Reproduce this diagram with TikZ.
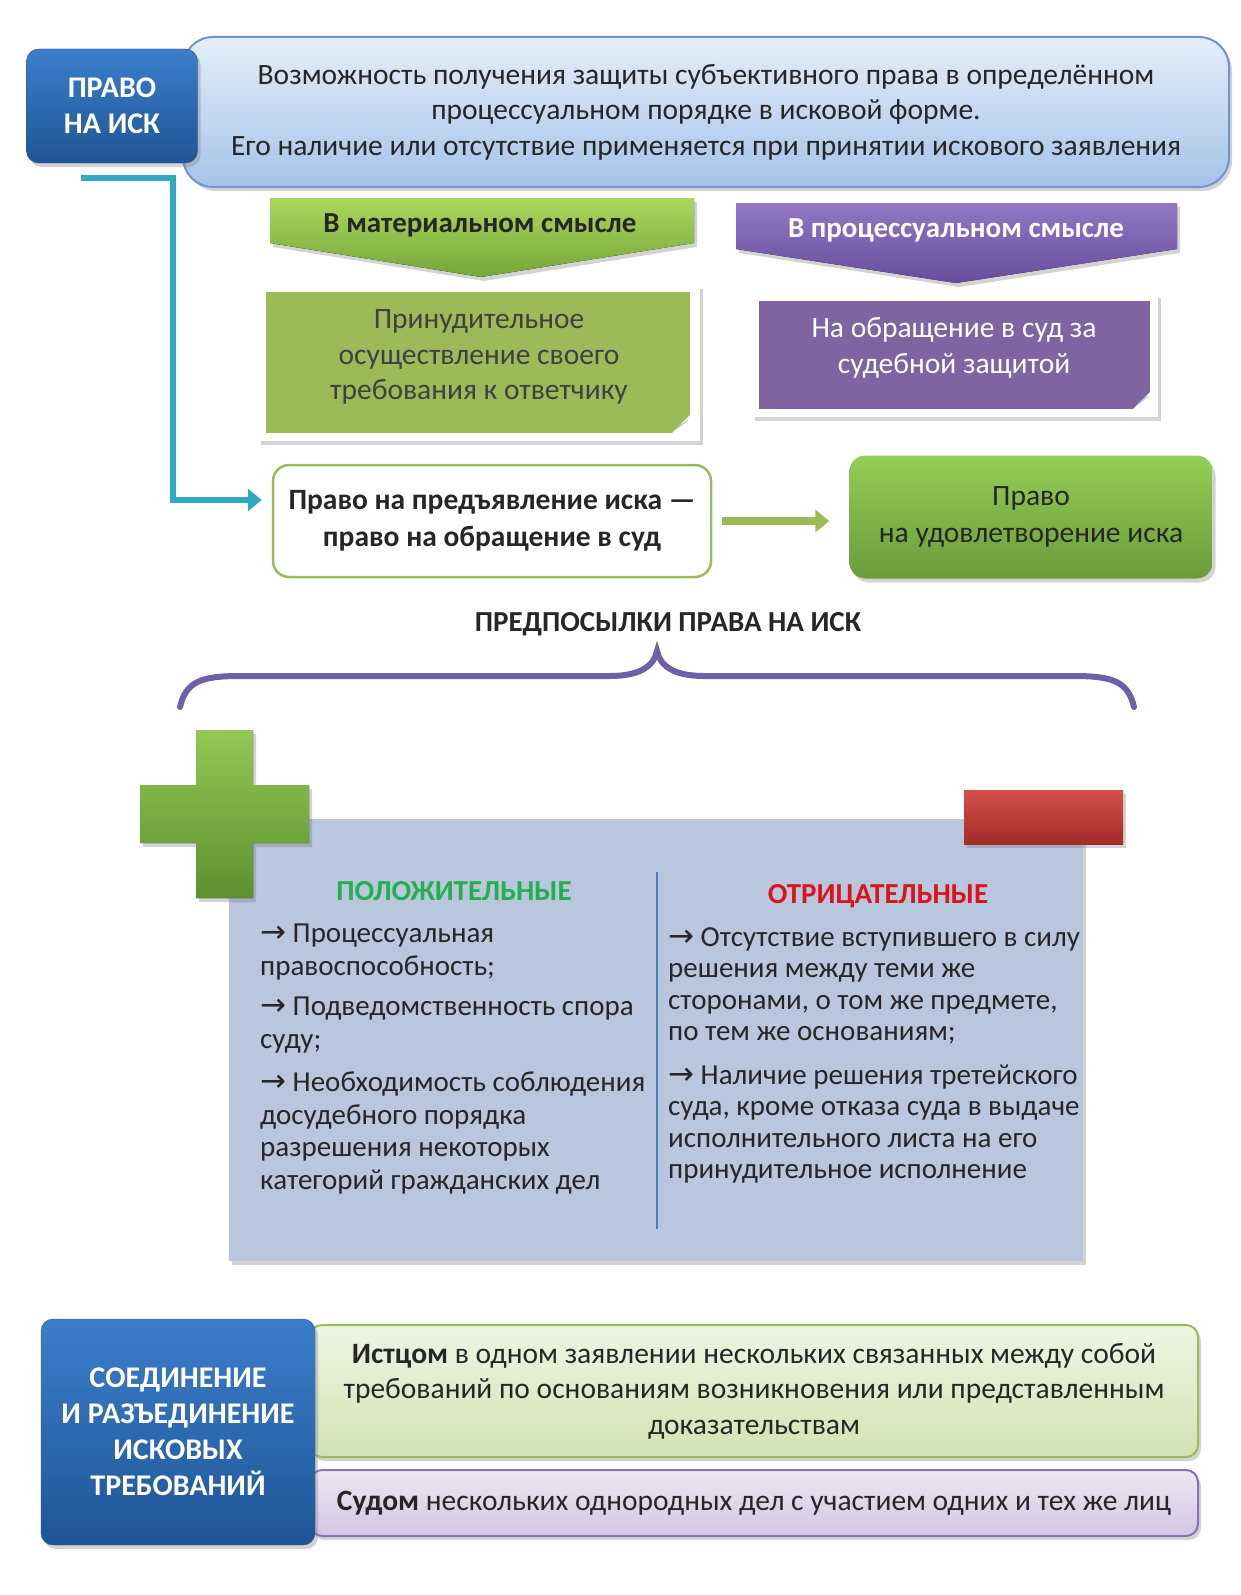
\documentclass[tikz,border=0pt]{standalone}
\usepackage{fontspec}
\setmainfont{Carlito}
\newfontfamily\arrowfont{DejaVu Sans}
\usetikzlibrary{arrows.meta,shadows,calc}

\definecolor{headtop}{HTML}{3C7ECB}
\definecolor{headbot}{HTML}{1F5596}
\definecolor{desctop}{HTML}{E4EEF9}
\definecolor{descbot}{HTML}{A6C3E8}
\definecolor{descline}{HTML}{6F95CC}
\definecolor{tealline}{HTML}{31A9C1}
\definecolor{notegreen}{HTML}{9BBB59}
\definecolor{noteviolet}{HTML}{8064A2}
\definecolor{bangreentop}{HTML}{AAD75D}
\definecolor{bangreenbot}{HTML}{76A63A}
\definecolor{banviolettop}{HTML}{9277C4}
\definecolor{banvioletbot}{HTML}{684D9C}
\definecolor{satisfytop}{HTML}{94CD57}
\definecolor{satisfybot}{HTML}{6A9C39}
\definecolor{bracecol}{HTML}{6F5FA9}
\definecolor{panelblue}{HTML}{B8C6DE}
\definecolor{divider}{HTML}{4A7EBB}
\definecolor{plustop}{HTML}{93C856}
\definecolor{plusbot}{HTML}{5E8F2E}
\definecolor{minustop}{HTML}{D6504A}
\definecolor{minusbot}{HTML}{A02C28}
\definecolor{posgreen}{HTML}{22B04C}
\definecolor{negred}{HTML}{D9141B}
\definecolor{joingreentop}{HTML}{EFF5E3}
\definecolor{joingreenbot}{HTML}{D3E2B3}
\definecolor{joinviolettop}{HTML}{EDE7F4}
\definecolor{joinvioletbot}{HTML}{D2C5E3}
\definecolor{joinvioletline}{HTML}{8A72B5}
\definecolor{textgray}{HTML}{262626}

\newcommand{\itemarrow}{{\arrowfont\fontsize{31}{32}\selectfont →}\ }

\tikzset{
	shadowed/.style={drop shadow={shadow xshift=3pt,shadow yshift=-4pt,opacity=.35}},
	txt/.style={text=textgray,align=center,font=\fontsize{29.5}{35.5}\selectfont},
	bluehead/.style={rounded corners=12pt,top color=headtop,bottom color=headbot,
		draw=headbot,text=white,align=center,shadowed,
		font=\fontsize{30}{36}\selectfont\bfseries},
	descbox/.style={txt,rounded corners=30pt,top color=desctop,bottom color=descbot,
		draw=descline,line width=2pt,shadowed},
	claimbox/.style={txt,rounded corners=16pt,fill=white,draw=notegreen,line width=2.5pt,
		font=\fontsize{29.5}{37.5}\selectfont\bfseries},
	satisfybox/.style={txt,rounded corners=16pt,top color=satisfytop,bottom color=satisfybot,
		shadowed,font=\fontsize{29.5}{37}\selectfont},
	listtext/.style={text=textgray,align=left,inner sep=0pt,anchor=north west,
		font=\fontsize{29}{31.5}\selectfont},
	headtext/.style={font=\fontsize{29}{30}\selectfont\bfseries},
}

\begin{document}
\begin{tikzpicture}[x=1pt,y=-1pt]
	\useasboundingbox (0,0) rectangle (1241,1595);
	
	% Definicio
	\node[descbox,minimum width=1046,minimum height=150] (desc) at (706,112)
	{Возможность получения защиты субъективного права в определённом\\
		процессуальном порядке в исковой форме.\\
		Его наличие или отсутствие применяется при принятии искового заявления};
	
	% Право на иск
	\node[bluehead,minimum width=171,minimum height=114] (pravo) at (112,106) {ПРАВО\\НА ИСК};
	
	% Banderes
	\fill[top color=bangreentop,bottom color=bangreenbot,shadowed]
	(270,198) -- (694,198) -- (694,243) -- (481,277) -- (270,243) -- cycle;
	\node[txt,headtext] (matsense) at (480,225) {В материальном смысле};
	
	\fill[top color=banviolettop,bottom color=banvioletbot,shadowed]
	(736,203) -- (1177,203) -- (1177,249) -- (956,283) -- (736,249) -- cycle;
	\node[txt,headtext,text=white] (procsense) at (956,230) {В процессуальном смысле};
	
	% Notes
	\fill[white,shadowed] (258,285) rectangle (700,441);
	\fill[notegreen] (266,292) rectangle (690,433);
	\fill[white] (690,415) -- (690,433) -- (672,433) -- cycle;
	\draw[black!25,line width=1pt] (676,429) .. controls (682,424) .. (688,420);
	\node[txt,text=black!75] (matnote) at (479,357) {Принудительное\\осуществление своего\\требования к ответчику};
	
	\fill[white,shadowed] (752,294) rectangle (1158,417);
	\fill[noteviolet] (759,301) rectangle (1150,409);
	\fill[white] (1150,392) -- (1150,409) -- (1133,409) -- cycle;
	\draw[black!25,line width=1pt] (1137,405) .. controls (1142,400) .. (1148,396);
	\node[txt,text=white] (procnote) at (954,348) {На обращение в суд за\\судебной защитой};
	
	% Dret de demanda
	\node[claimbox,minimum width=438,minimum height=112] (claim) at (492,521)
	{Право на предъявление иска —\\право на обращение в суд};
	\node[satisfybox,minimum width=363,minimum height=123] (satisfy) at (1031,517)
	{Право\\на удовлетворение иска};
	
	% Connectors
	\coordinate (tealstart) at (81,178);
	\draw[tealline,line width=6pt,-{Triangle[length=14pt,width=22pt]}]
	(tealstart) -- ++(92,0) |- ([xshift=-10pt,yshift=21pt]claim.west);
	\draw[notegreen,line width=8pt,-{Triangle[length=14pt,width=22pt]}]
	([xshift=10pt]claim.east) -- ($(satisfy.west |- claim.east)+(-20,0)$);
	
	% Предпосылки
	\node[text=textgray,headtext] (pretitle) at (668,624) {ПРЕДПОСЫЛКИ ПРАВА НА ИСК};
	\draw[bracecol,line width=6pt,line cap=round]
	(180,707) .. controls (186,682) and (200,676) .. (240,676) -- (610,676)
	.. controls (640,676) and (654,666) .. (657,651)
	.. controls (660,666) and (674,676) .. (704,676) -- (1074,676)
	.. controls (1114,676) and (1128,682) .. (1134,707);
	
	% Panell
	\fill[panelblue,shadowed] (229,819) rectangle (1083,1261);
	\draw[divider,line width=1.5pt] (657,872) -- (657,1229);
	
	% Signe mes
	\fill[top color=plustop,bottom color=plusbot,shadowed]
	(196,730) -- (253,730) -- (253,785) -- (309,785) -- (309,843) -- (253,843)
	-- (253,898) -- (196,898) -- (196,843) -- (140,843) -- (140,785) -- (196,785) -- cycle;
	
	% Signe menys
	\fill[top color=minustop,bottom color=minusbot,shadowed] (964,790) rectangle (1123,844);
	
	% Capcaleres
	\node[text=posgreen,headtext] (poshead) at (454,891) {ПОЛОЖИТЕЛЬНЫЕ};
	\node[text=negred,headtext] (neghead) at (878,896) {ОТРИЦАТЕЛЬНЫЕ};
	
	% Llistes
	\node[listtext,font=\fontsize{29}{32.5}\selectfont] (poslist) at (260,924)
	{\itemarrow Процессуальная\\правоспособность;\\[8pt]
		\itemarrow Подведомственность спора\\суду;\\[11pt]
		\itemarrow Необходимость соблюдения\\досудебного порядка\\разрешения некоторых\\категорий гражданских дел};
	\node[listtext] (neglist) at (668,927)
	{\itemarrow Отсутствие вступившего в силу\\решения между теми же\\сторонами, о том же предмете,\\по тем же основаниям;\\[12pt]
		\itemarrow Наличие решения третейского\\суда, кроме отказа суда в выдаче\\исполнительного листа на его\\принудительное исполнение};
	
	% Соединение
	\node[txt,rounded corners=12pt,top color=joingreentop,bottom color=joingreenbot,
	draw=notegreen,line width=2pt,shadowed,minimum width=888,minimum height=132] (joinplain) at (754,1391)
	{\textbf{Истцом} в одном заявлении нескольких связанных между собой\\
		требований по основаниям возникновения или представленным\\доказательствам};
	\node[txt,rounded corners=12pt,top color=joinviolettop,bottom color=joinvioletbot,
	draw=joinvioletline,line width=2pt,shadowed,minimum width=888,minimum height=66] (joincourt) at (754,1503)
	{\textbf{Судом} нескольких однородных дел с участием одних и тех же лиц};
	\node[bluehead,minimum width=274,minimum height=226] (joinhead) at (178,1432)
	{СОЕДИНЕНИЕ\\И РАЗЪЕДИНЕНИЕ\\ИСКОВЫХ\\ТРЕБОВАНИЙ};
	
\end{tikzpicture}
\end{document}
